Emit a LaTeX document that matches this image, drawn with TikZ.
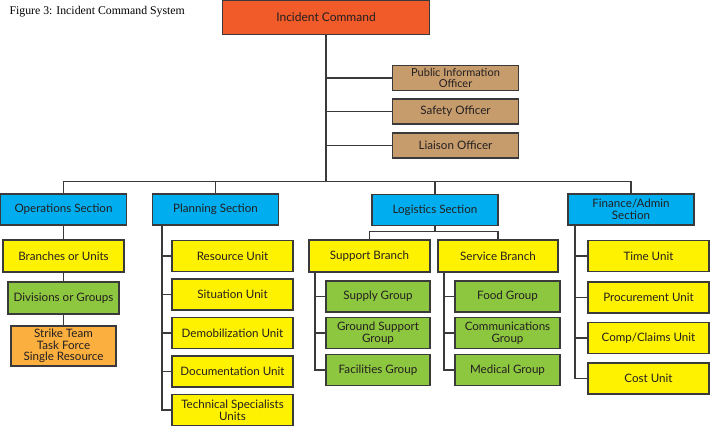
\documentclass[tikz,border=0pt]{standalone}
\usepackage{fontspec}
\setmainfont{Lato}
\newfontfamily\titlefont{Liberation Serif}
\definecolor{icred}{HTML}{F15A29}
\definecolor{tan}{HTML}{C69C6D}
\definecolor{secblue}{HTML}{00AEEF}
\definecolor{unityel}{HTML}{FFF200}
\definecolor{grpgreen}{HTML}{8DC63F}
\definecolor{resorange}{HTML}{FBAF3F}
\definecolor{edge}{HTML}{3A3A3A}
\definecolor{ink}{HTML}{231F20}
\begin{document}
\begin{tikzpicture}[x=1pt,y=-1pt,
  box/.style={draw=edge, line width=1.4pt, rectangle, inner sep=1pt, align=center,
    font=\fontsize{11.6}{11.6}\selectfont, text=ink},
  conn/.style={draw=edge, line width=1.4pt}]
\useasboundingbox (0,0) rectangle (710,427);
\node[anchor=west, font=\titlefont\fontsize{11.8}{12}\selectfont] (title) at (6,12) {Figure 3: Incident Command System};
% top
\node[box, fill=icred, minimum width=207, minimum height=34, font=\fontsize{12}{12}\selectfont] (ic) at (326,17.5) {Incident Command};
\node[box, fill=tan, minimum width=126, minimum height=25, font=\fontsize{11}{11.5}\selectfont] (pio) at (455.5,78) {Public Information\\Officer};
\node[box, fill=tan, minimum width=126, minimum height=25] (saf) at (455.5,111.5) {Safety Officer};
\node[box, fill=tan, minimum width=126, minimum height=25] (lia) at (455.5,145.5) {Liaison Officer};
% sections
\node[box, fill=secblue, minimum width=126, minimum height=31] (ops) at (63.5,209.5) {Operations Section};
\node[box, fill=secblue, minimum width=126, minimum height=31] (plan) at (215.5,209.5) {Planning Section};
\node[box, fill=secblue, minimum width=126, minimum height=31] (log) at (435,210) {Logistics Section};
\node[box, fill=secblue, minimum width=126, minimum height=31] (fin) at (631,209.5) {Finance/Admin\\Section};
% operations
\node[box, fill=unityel, minimum width=121, minimum height=32] (bru) at (63.5,256) {Branches or Units};
\node[box, fill=grpgreen, minimum width=111, minimum height=32] (div) at (63.5,298) {Divisions or Groups};
\node[box, fill=resorange, minimum width=105, minimum height=40] (str) at (63.5,346) {Strike Team\\Task Force\\Single Resource};
% planning
\node[box, fill=unityel, minimum width=121, minimum height=31] (res) at (232.5,256) {Resource Unit};
\node[box, fill=unityel, minimum width=121, minimum height=31] (sit) at (232.5,294.5) {Situation Unit};
\node[box, fill=unityel, minimum width=121, minimum height=31] (dem) at (232.5,333) {Demobilization Unit};
\node[box, fill=unityel, minimum width=121, minimum height=31] (doc) at (232.5,371.5) {Documentation Unit};
\node[box, fill=unityel, minimum width=121, minimum height=31] (tec) at (232.5,410) {Technical Specialists\\Units};
% logistics
\node[box, fill=unityel, minimum width=121, minimum height=32] (supb) at (369.5,256) {Support Branch};
\node[box, fill=unityel, minimum width=120, minimum height=32] (serb) at (498,256) {Service Branch};
\node[box, fill=grpgreen, minimum width=104, minimum height=31] (sup) at (378,296.5) {Supply Group};
\node[box, fill=grpgreen, minimum width=104, minimum height=31] (gsg) at (378,333) {Ground Support\\Group};
\node[box, fill=grpgreen, minimum width=104, minimum height=31] (fac) at (378,370) {Facilities Group};
\node[box, fill=grpgreen, minimum width=105, minimum height=31] (food) at (507.5,296.5) {Food Group};
\node[box, fill=grpgreen, minimum width=105, minimum height=31] (com) at (507.5,333) {Communications\\Group};
\node[box, fill=grpgreen, minimum width=105, minimum height=31] (med) at (507.5,370) {Medical Group};
% finance
\node[box, fill=unityel, minimum width=121, minimum height=31] (time) at (648.5,256) {Time Unit};
\node[box, fill=unityel, minimum width=121, minimum height=31] (proc) at (648.5,297.5) {Procurement Unit};
\node[box, fill=unityel, minimum width=121, minimum height=31] (comp) at (648.5,338) {Comp/Claims Unit};
\node[box, fill=unityel, minimum width=121, minimum height=31] (cost) at (648.5,378.5) {Cost Unit};
% helper coordinates
\coordinate (bus) at (0,181.5);
\coordinate (lbus) at (0,231.5);
\coordinate (plx) at (162,0);
\coordinate (spx) at (315,0);
\coordinate (svx) at (444,0);
\coordinate (fnx) at (575,0);
% connectors
\draw[conn] (ic.south) -- (ic.south |- bus);
\draw[conn] (ops.north) |- (ic.south |- bus) -| (fin.north);
\draw[conn] (plan.north) -- (plan.north |- bus);
\draw[conn] (log.north) -- (log.north |- bus);
\draw[conn] (pio.west) -- (pio.west -| ic.south);
\draw[conn] (saf.west) -- (saf.west -| ic.south);
\draw[conn] (lia.west) -- (lia.west -| ic.south);
\draw[conn] (ops.south) -- (bru.north);
\draw[conn] (bru.south) -- (div.north);
\draw[conn] (div.south) -- (str.north);
\draw[conn] (plan.south -| plx) |- (tec.west);
\foreach \n in {res,sit,dem,doc} \draw[conn] (\n.west) -- (\n.west -| plx);
\draw[conn] (log.south) -- (log.south |- lbus);
\draw[conn] (supb.north) |- (log.south |- lbus) -| (serb.north);
\draw[conn] (supb.south -| spx) |- (fac.west);
\foreach \n in {sup,gsg} \draw[conn] (\n.west) -- (\n.west -| spx);
\draw[conn] (serb.south -| svx) |- (med.west);
\foreach \n in {food,com} \draw[conn] (\n.west) -- (\n.west -| svx);
\draw[conn] (fin.south -| fnx) |- (cost.west);
\foreach \n in {time,proc,comp} \draw[conn] (\n.west) -- (\n.west -| fnx);
\end{tikzpicture}
\end{document}
